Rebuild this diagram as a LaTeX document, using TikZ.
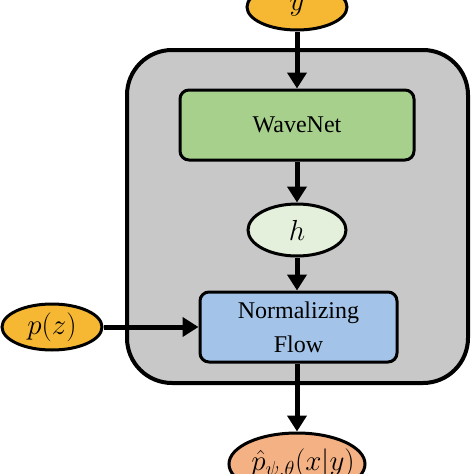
\RequirePackage{fix-cm}
\documentclass[tikz,border=0pt]{standalone}
\usepackage[no-math]{fontspec}
\setmainfont{Liberation Serif}
\usetikzlibrary{arrows.meta,shapes.geometric}
\definecolor{gold}{HTML}{F6B833}
\definecolor{graybox}{HTML}{C8C8C8}
\definecolor{greenbox}{HTML}{A8D08D}
\definecolor{hfill}{HTML}{E4F0DC}
\definecolor{bluebox}{HTML}{A3C4E8}
\definecolor{salmon}{HTML}{F4B183}
\tikzset{
  container/.style={draw=black, line width=4pt, fill=graybox, rounded corners=45pt, minimum width=341pt, minimum height=333pt},
  blockbox/.style={draw=black, line width=3pt, rounded corners=9pt, align=center, inner sep=0pt, font=\fontsize{24}{34}\selectfont},
  oval/.style={ellipse, draw=black, line width=3pt, inner sep=0pt, font=\fontsize{29}{34}\selectfont},
  flowarrow/.style={line width=5pt, -{Triangle[length=16pt,width=19pt]}}
}
\begin{document}
\begin{tikzpicture}[x=1pt,y=-1pt]
\useasboundingbox (0,0) rectangle (474,474);
\node[container] (box) at (297.5,216.5) {};
\node[blockbox, fill=greenbox, minimum width=234pt, minimum height=70pt] (wave) at (297,125) {WaveNet};
\node[oval, fill=hfill, minimum width=98pt, minimum height=52pt] (h) at (297,230) {$h$};
\node[blockbox, fill=bluebox, minimum width=197pt, minimum height=70pt] (nf) at (298.5,327) {Normalizing\\Flow};
\node[oval, fill=gold, minimum width=100pt, minimum height=46pt] (pz) at (52,327) {$p(z)$};
\node[oval, fill=gold, minimum width=100pt, minimum height=46pt] (y) at (297,7) {$y$};
\node[oval, fill=salmon, minimum width=136pt, minimum height=62pt] (out) at (297,464) {\makebox[0pt]{\hspace{12pt}$\hat{p}_{\psi,\theta}(x|y)$}};
\draw[flowarrow] (y.south) -- (wave.north);
\draw[flowarrow] (wave.south) -- (h.north);
\draw[flowarrow] (h.south) -- (h.south |- nf.north);
\draw[flowarrow] (pz.east) -- (pz.east -| nf.west);
\draw[flowarrow] (nf.south -| out.north) -- (out.north);
\end{tikzpicture}
\end{document}
